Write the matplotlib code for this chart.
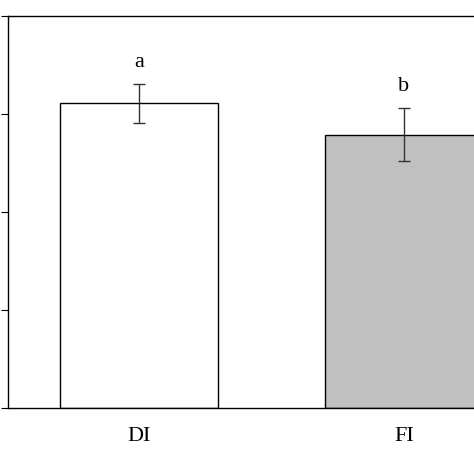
import matplotlib.pyplot as plt

plt.rcParams['font.family'] = ['Liberation Serif', 'DejaVu Serif']

groups = ["DI", "FI"]
means = [3.11, 2.79]
errors = [0.20, 0.27]
letters = ["a", "b"]
colors = ["white", "#c0c0c0"]

fig = plt.figure(figsize=(4.74, 4.74), dpi=100)
W, H = 474, 474
left_px, right_px, top_px, bottom_px = 8, 536.5, 16, 408
ax = fig.add_axes([left_px / W, 1 - bottom_px / H,
                   (right_px - left_px) / W, (bottom_px - top_px) / H])

x = range(len(groups))
ax.bar(x, means, width=0.596, color=colors, edgecolor="black", linewidth=1.0)
ax.errorbar(x, means, yerr=errors, fmt="none", ecolor="#333333",
            elinewidth=1.0, capsize=4, capthick=1.0)
for i, (m, e, t) in enumerate(zip(means, errors, letters)):
    ax.text(i, m + e + 0.12, t, ha="center", va="bottom", fontsize=16)

ax.set_xlim(-0.494, 1.5)
ax.set_ylim(0, 4)
ax.set_yticks([0, 1, 2, 3, 4])
ax.set_yticklabels([])
ax.set_xticks(list(x))
ax.set_xticklabels(groups, fontsize=16)
ax.tick_params(axis="x", length=0, pad=14)
ax.tick_params(axis="y", direction="out", length=5)
for s in ax.spines.values():
    s.set_linewidth(1.0)

fig.savefig("out.png", dpi=100)
